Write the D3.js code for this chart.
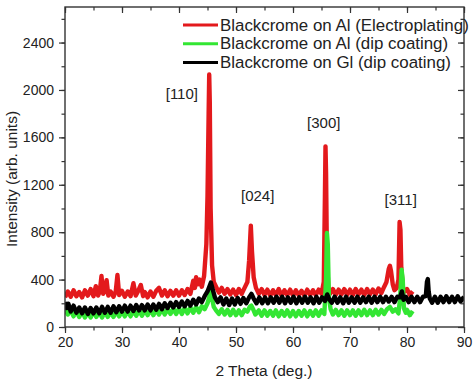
<!DOCTYPE html>
<html>
<head>
<meta charset="utf-8">
<script src="https://cdn.jsdelivr.net/npm/d3@7"></script>
<style>
  body { margin: 0; background: #fff; }
  svg { display: block; font-family: Arial, "Liberation Sans", sans-serif; }
</style>
</head>
<body>
<svg id="xrdChart" width="474" height="379"></svg>
<script>
// Series names (legend order)
var seriesNames = [
    "Blackcrome on Al (Electroplating)",
    "Blackcrome on Al (dip coating)",
    "Blackcrome on Gl (dip coating)"
];

// Red: electroplated on Al, [2theta, intensity]
var electroAl = [
    [20.0,250],[20.5,300],[21.0,255],[21.5,310],[22.0,260],[22.5,295],[23.0,250],[23.5,310],
    [24.0,265],[24.5,320],[25.0,260],[25.4,345],[25.8,265],[26.1,300],[26.4,430],[26.7,280],
    [27.0,300],[27.3,395],[27.6,265],[28.0,300],[28.5,255],[28.9,300],[29.2,440],[29.5,270],
    [30.0,305],[30.5,255],[31.0,300],[31.5,260],[32.0,370],[32.4,265],[32.8,300],[33.3,355],
    [33.7,260],[34.0,295],[34.5,250],[35.0,300],[35.5,255],[36.0,305],[36.5,330],[37.0,265],
    [37.5,310],[38.0,260],[38.5,305],[39.0,265],[39.5,310],[40.0,265],[40.5,310],[41.0,270],
    [41.5,320],[42.0,280],[42.5,390],[42.8,330],[43.0,420],[43.3,360],[43.6,400],[44.0,340],
    [44.4,430],[44.8,700],[45.0,1100],[45.2,1800],[45.3,2130],[45.4,1900],[45.55,1000],[45.8,520],
    [46.1,380],[46.5,340],[47.0,290],[47.5,330],[48.0,280],[48.5,320],[49.0,275],[49.5,315],
    [50.0,270],[50.5,320],[51.0,280],[51.5,330],[52.0,380],[52.3,560],[52.6,855],[52.8,640],
    [53.1,420],[53.5,330],[54.0,280],[54.5,320],[55.0,270],[55.5,315],[56.0,265],[56.5,310],
    [57.0,270],[57.5,320],[58.0,265],[58.5,310],[59.0,270],[59.5,315],[60.0,265],[60.5,310],
    [61.0,270],[61.5,305],[62.0,265],[62.5,315],[63.0,270],[63.5,310],[64.0,270],[64.5,315],
    [65.0,280],[65.4,380],[65.6,1100],[65.7,1524],[65.8,1300],[65.95,600],[66.2,330],[66.5,280],
    [67.0,320],[67.5,270],[68.0,315],[68.5,275],[69.0,320],[69.5,270],[70.0,315],[70.5,270],
    [71.0,320],[71.5,275],[72.0,315],[72.5,270],[73.0,320],[73.5,275],[74.0,315],[74.5,275],
    [75.0,325],[75.5,285],[76.0,340],[76.4,380],[76.8,490],[77.0,517],[77.2,470],[77.5,360],
    [77.8,310],[78.2,330],[78.5,400],[78.7,886],[78.85,820],[79.0,500],[79.3,330],[79.6,300],
    [80.0,320],[80.5,270],[81.0,300]
];

// Green: dip coating on Al
var dipAl = [
    [20.0,155],[20.5,105],[21.0,140],[21.5,90],[22.0,135],[22.5,85],[23.0,130],[23.5,80],
    [24.0,125],[24.5,80],[25.0,130],[25.5,85],[26.0,125],[26.5,80],[27.0,130],[27.5,85],
    [28.0,125],[28.5,85],[29.0,130],[29.5,90],[30.0,130],[30.5,90],[31.0,135],[31.5,90],
    [32.0,135],[32.5,95],[33.0,140],[33.5,95],[34.0,140],[34.5,100],[35.0,145],[35.5,100],
    [36.0,145],[36.5,105],[37.0,150],[37.5,105],[38.0,150],[38.5,110],[39.0,155],[39.5,110],
    [40.0,155],[40.5,110],[41.0,160],[41.5,115],[42.0,165],[42.5,120],[43.0,170],[43.5,125],
    [44.0,175],[44.5,150],[45.0,200],[45.4,270],[45.6,300],[45.8,240],[46.1,170],[46.5,140],
    [47.0,110],[47.5,150],[48.0,105],[48.5,145],[49.0,100],[49.5,145],[50.0,100],[50.5,140],
    [51.0,100],[51.5,145],[52.0,130],[52.4,170],[52.7,180],[53.0,150],[53.4,105],[54.0,140],
    [54.5,95],[55.0,140],[55.5,95],[56.0,135],[56.5,95],[57.0,140],[57.5,90],[58.0,135],
    [58.5,95],[59.0,140],[59.5,90],[60.0,135],[60.5,90],[61.0,135],[61.5,95],[62.0,140],
    [62.5,90],[63.0,135],[63.5,95],[64.0,140],[64.5,95],[65.0,140],[65.5,110],[65.8,400],
    [65.95,793],[66.1,700],[66.3,250],[66.6,150],[67.0,105],[67.5,145],[68.0,100],[68.5,140],
    [69.0,95],[69.5,140],[70.0,100],[70.5,140],[71.0,95],[71.5,140],[72.0,100],[72.5,145],
    [73.0,100],[73.5,140],[74.0,100],[74.5,145],[75.0,105],[75.5,145],[76.0,110],[76.5,150],
    [77.0,170],[77.5,130],[78.0,150],[78.5,115],[78.8,250],[79.05,484],[79.25,400],[79.45,160],
    [79.8,120],[80.0,145],[80.5,100],[81.0,135]
];

// Black: dip coating on Gl
var dipGl = [
    [20.0,210],[20.3,160],[20.6,195],[21.0,130],[21.5,180],[22.0,120],[22.5,165],[23.0,115],
    [23.5,165],[24.0,110],[24.5,160],[25.0,115],[25.5,165],[26.0,115],[26.5,170],[27.0,120],
    [27.5,170],[28.0,120],[28.5,175],[29.0,125],[29.5,175],[30.0,130],[30.5,180],[31.0,130],
    [31.5,180],[32.0,135],[32.5,185],[33.0,140],[33.5,185],[34.0,140],[34.5,190],[35.0,140],
    [35.5,190],[36.0,145],[36.5,195],[37.0,150],[37.5,200],[38.0,160],[38.5,205],[39.0,165],
    [39.5,210],[40.0,170],[40.5,215],[41.0,175],[41.5,220],[42.0,180],[42.5,230],[43.0,190],
    [43.5,240],[44.0,210],[44.5,260],[45.0,300],[45.4,350],[45.6,375],[45.9,320],[46.3,250],
    [46.8,210],[47.3,250],[47.8,190],[48.3,240],[48.8,185],[49.3,240],[49.8,190],[50.3,245],
    [50.8,195],[51.3,245],[51.8,200],[52.3,250],[52.7,280],[53.1,240],[53.6,200],[54.1,250],
    [54.6,200],[55.1,250],[55.6,200],[56.1,250],[56.6,205],[57.1,255],[57.6,205],[58.1,255],
    [58.6,200],[59.1,250],[59.6,205],[60.1,255],[60.6,200],[61.1,250],[61.6,205],[62.1,255],
    [62.6,205],[63.1,250],[63.6,200],[64.1,255],[64.6,205],[65.1,250],[65.6,220],[66.0,275],
    [66.4,230],[66.8,205],[67.3,255],[67.8,205],[68.3,250],[68.8,200],[69.3,255],[69.8,205],
    [70.3,250],[70.8,205],[71.3,255],[71.8,205],[72.3,250],[72.8,210],[73.3,255],[73.8,205],
    [74.3,255],[74.8,210],[75.3,255],[75.8,210],[76.3,255],[76.8,215],[77.3,255],[77.8,210],
    [78.3,255],[78.8,250],[79.1,300],[79.4,230],[79.8,255],[80.3,210],[80.8,255],[81.3,210],
    [81.8,255],[82.3,210],[82.8,255],[83.3,260],[83.5,380],[83.65,405],[83.8,300],[84.0,240],
    [84.4,205],[84.9,255],[85.4,205],[85.9,255],[86.4,210],[86.9,260],[87.4,210],[87.9,255],
    [88.4,210],[88.9,260],[89.4,215],[90.0,255]
];

// Peak labels: [text, 2theta, intensity]
var peakLabels = [
    ["[110]", 40.5, 1927],
    ["[024]", 53.8, 1066],
    ["[300]", 65.4, 1682],
    ["[311]", 78.9, 1032]
];

// Axis ticks
var xTicks = [20, 30, 40, 50, 60, 70, 80, 90];
var yTicks = [0, 400, 800, 1200, 1600, 2000, 2400];

var seriesData = [electroAl, dipAl, dipGl];
var seriesColors = ["#e3191c", "#33e633", "#000000"];

// Plot frame (names avoid window.top)
var plotL = 65, plotR = 464, plotT = 7, plotB = 327;

var x = d3.scaleLinear().domain([20, 90]).range([plotL, plotR]);
var y = d3.scaleLinear().domain([0, 2700]).range([plotB, plotT]);

var svg = d3.select("#xrdChart");

// Clip the traces to the frame
svg.append("clipPath").attr("id", "plotClip")
    .append("rect")
    .attr("x", plotL).attr("y", plotT)
    .attr("width", plotR - plotL).attr("height", plotB - plotT);

var line = d3.line()
    .x(function(d) { return x(d[0]); })
    .y(function(d) { return y(d[1]); });

// Thick strokes so the noisy traces read as solid bands
var traces = svg.append("g").attr("clip-path", "url(#plotClip)");
seriesData.forEach(function(s, i) {
    traces.append("path")
        .datum(s)
        .attr("d", line)
        .attr("fill", "none")
        .attr("stroke", seriesColors[i])
        .attr("stroke-width", 4.4)
        .attr("stroke-linejoin", "round");
});

// Axes: bottom/left ticks point out, top/right mirror ticks point in
var xMinor = d3.range(20, 91, 5);
var yMinor = d3.range(0, 2701, 200);

var bottomAxis = d3.axisBottom(x).tickValues(xTicks).tickSize(6).tickPadding(4)
    .tickSizeOuter(0).tickFormat(d3.format("d"));
var leftAxis = d3.axisLeft(y).tickValues(yTicks).tickSize(6).tickPadding(5)
    .tickSizeOuter(0).tickFormat(d3.format("d"));

svg.append("g").attr("transform", "translate(0," + plotB + ")")
    .call(d3.axisBottom(x).tickValues(xMinor).tickSize(3.5).tickFormat("").tickSizeOuter(0));
svg.append("g").attr("transform", "translate(" + plotL + ",0)")
    .call(d3.axisLeft(y).tickValues(yMinor).tickSize(3.5).tickFormat("").tickSizeOuter(0));
svg.append("g").attr("class", "ax").attr("transform", "translate(0," + plotB + ")").call(bottomAxis);
svg.append("g").attr("class", "ax").attr("transform", "translate(" + plotL + ",0)").call(leftAxis);

svg.append("g").attr("transform", "translate(0," + plotT + ")")
    .call(d3.axisBottom(x).tickValues(xMinor).tickSize(3.5).tickFormat("").tickSizeOuter(0));
svg.append("g").attr("transform", "translate(0," + plotT + ")")
    .call(d3.axisBottom(x).tickValues(xTicks).tickSize(6).tickFormat("").tickSizeOuter(0));
svg.append("g").attr("transform", "translate(" + plotR + ",0)")
    .call(d3.axisLeft(y).tickValues(yMinor).tickSize(3.5).tickFormat("").tickSizeOuter(0));
svg.append("g").attr("transform", "translate(" + plotR + ",0)")
    .call(d3.axisLeft(y).tickValues(yTicks).tickSize(6).tickFormat("").tickSizeOuter(0));

svg.selectAll(".domain").remove();
svg.selectAll(".tick line").attr("stroke", "#333").attr("stroke-width", 1.2);
svg.selectAll(".ax text").attr("font-size", "14px").attr("fill", "#222")
    .attr("font-family", "Arial, 'Liberation Sans', sans-serif");

// Frame box
svg.append("rect")
    .attr("x", plotL).attr("y", plotT)
    .attr("width", plotR - plotL).attr("height", plotB - plotT)
    .attr("fill", "none").attr("stroke", "#333").attr("stroke-width", 1.4);

// Peak labels
svg.selectAll(".peak")
    .data(peakLabels)
    .enter().append("text")
    .attr("class", "peak")
    .attr("x", function(d) { return x(d[1]); })
    .attr("y", function(d) { return y(d[2]); })
    .attr("text-anchor", "middle")
    .attr("font-size", "15px")
    .attr("fill", "#222")
    .text(function(d) { return d[0]; });

// Legend
var legend = svg.append("g").attr("transform", "translate(183,25)");
seriesNames.forEach(function(name, i) {
    var row = legend.append("g").attr("transform", "translate(0," + (i * 18.7) + ")");
    row.append("line")
        .attr("x1", 0).attr("x2", 35)
        .attr("stroke", seriesColors[i]).attr("stroke-width", 3);
    row.append("text")
        .attr("x", 37).attr("y", 5.5)
        .attr("font-size", "16.9px")
        .attr("fill", "#222")
        .text(name);
});

// Axis titles
svg.append("text")
    .attr("x", 264).attr("y", 376)
    .attr("text-anchor", "middle")
    .attr("font-size", "15.5px")
    .attr("fill", "#222")
    .text("2 Theta (deg.)");

svg.append("text")
    .attr("transform", "translate(17,179) rotate(-90)")
    .attr("text-anchor", "middle")
    .attr("font-size", "15.5px")
    .attr("fill", "#222")
    .text("Intensity (arb. units)");
</script>
</body>
</html>
